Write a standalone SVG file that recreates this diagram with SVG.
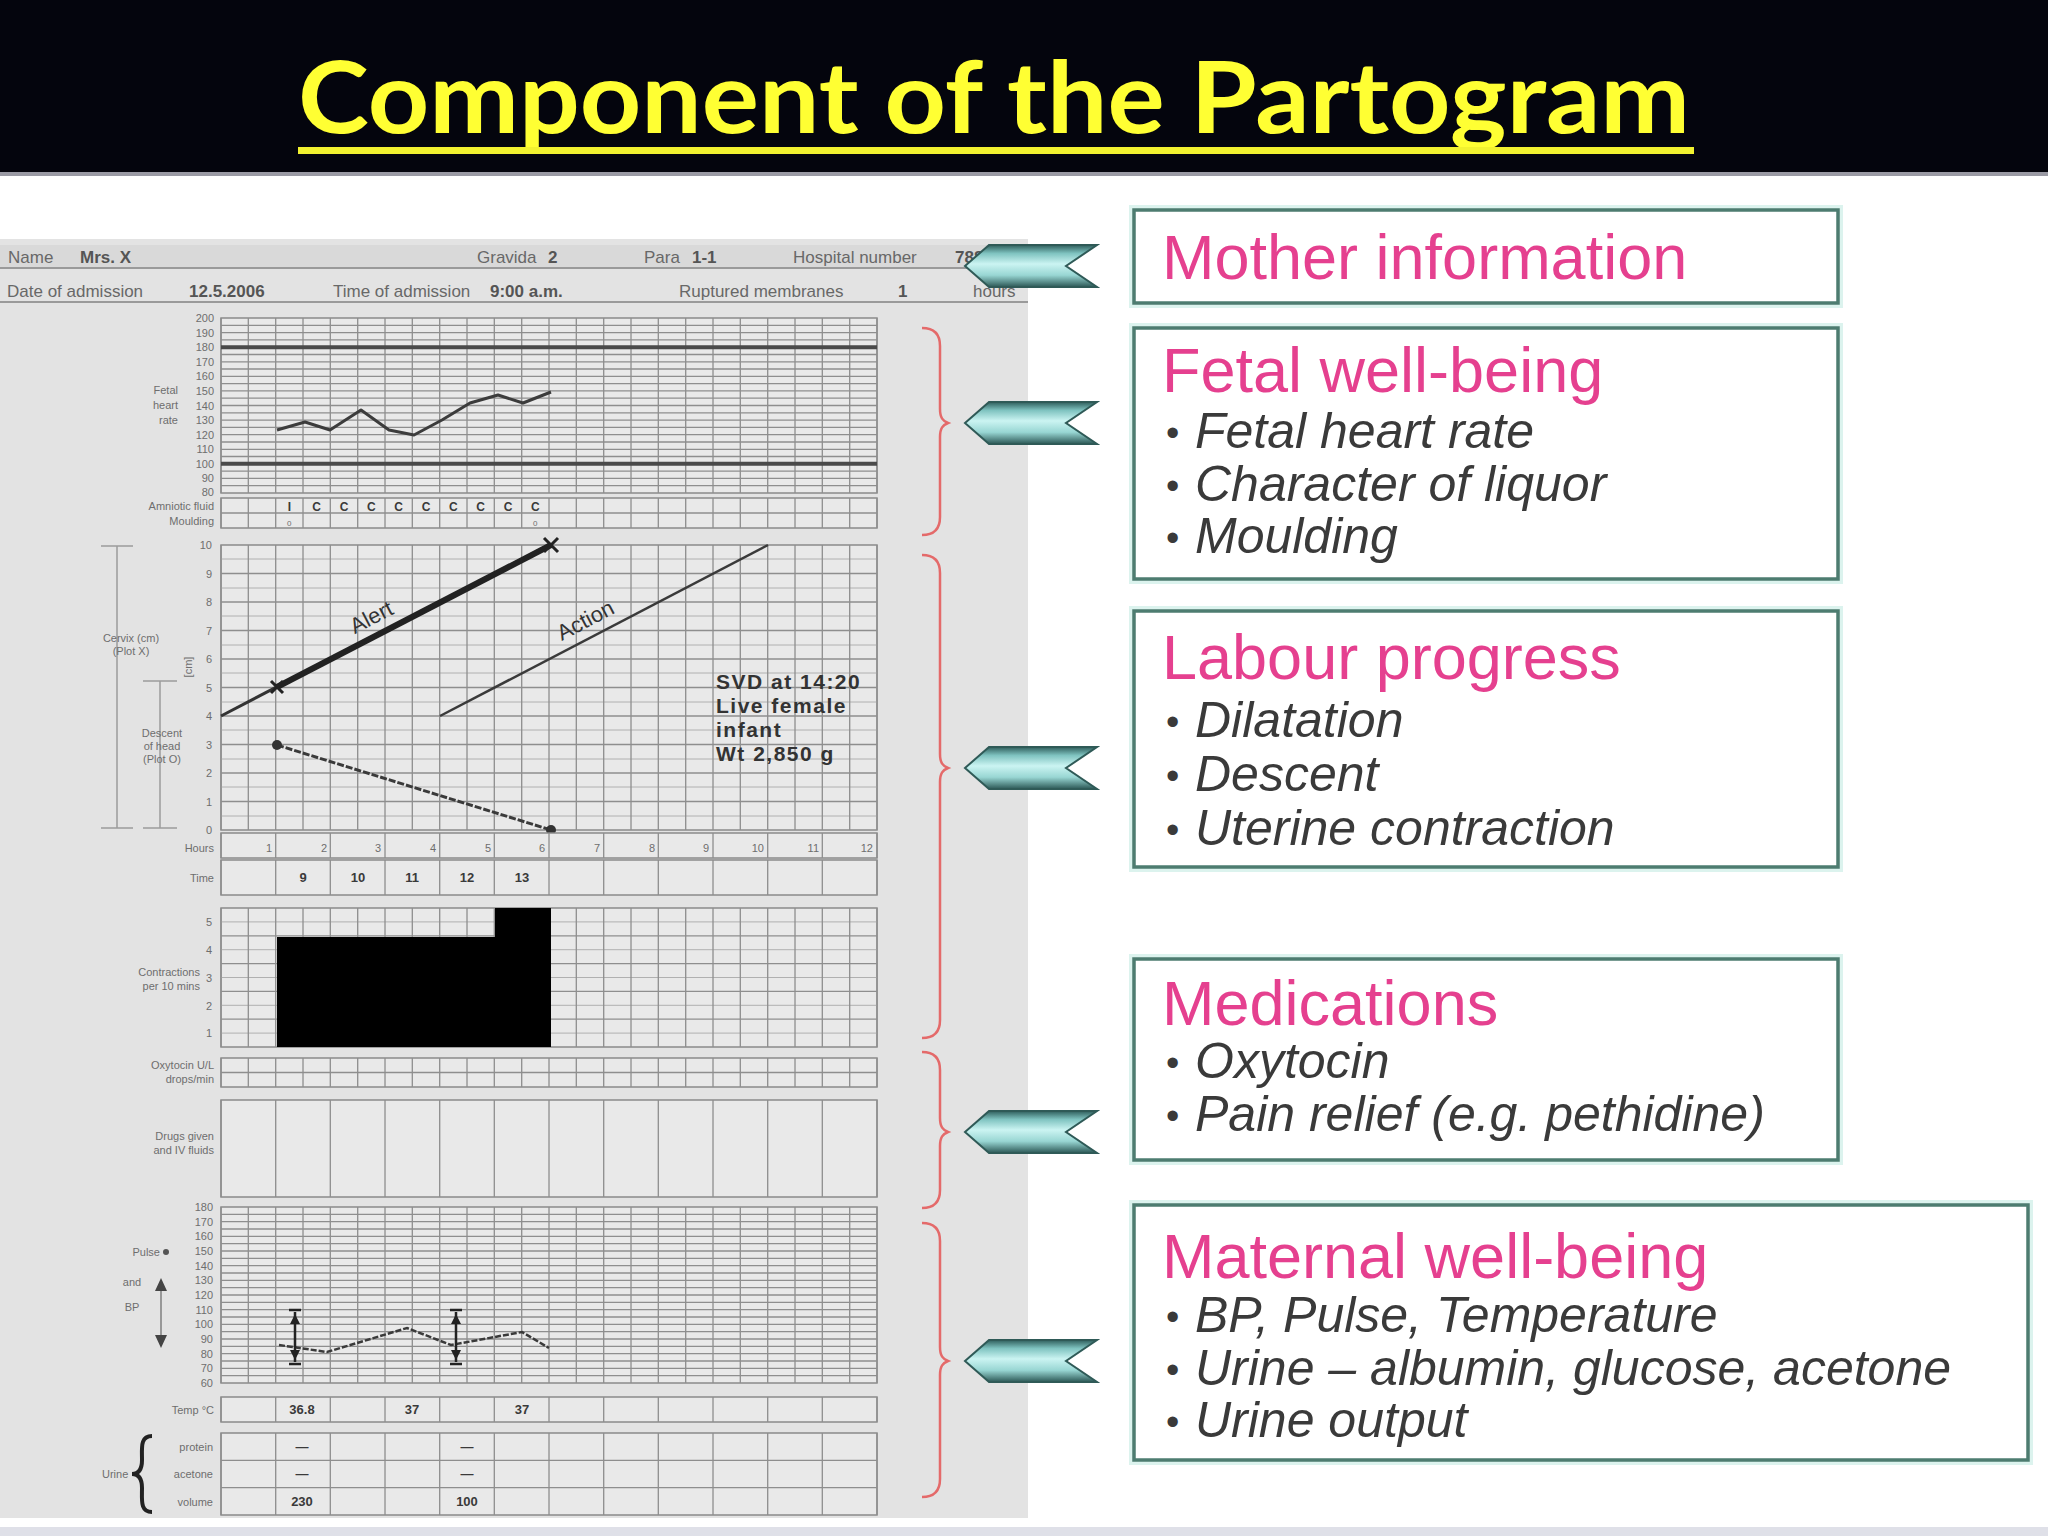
<svg xmlns="http://www.w3.org/2000/svg" xmlns:xlink="http://www.w3.org/1999/xlink" width="2048" height="1536" viewBox="0 0 2048 1536">
<style>
.g{fill:none;stroke:#8e8e8e;stroke-width:1.3}
.gl{fill:none;stroke:#b0b0b0;stroke-width:1}
.gt{fill:none;stroke:#4a4a4a;stroke-width:4}
.cb{fill:#e9e9e9;stroke:#8a8a8a;stroke-width:1.5}
.ax{font-family:"Liberation Sans",Arial,sans-serif;font-size:11px;fill:#6e6e6e}
.ar{font-family:"Liberation Sans",Arial,sans-serif;font-size:11px;fill:#6e6e6e;text-anchor:end}
.am{font-family:"Liberation Sans",Arial,sans-serif;font-size:11px;fill:#6e6e6e;text-anchor:middle}
.val{font-family:"Liberation Sans",Arial,sans-serif;font-size:13px;font-weight:bold;fill:#3a3a3a;text-anchor:middle}
.hd{font-family:"Liberation Sans",Arial,sans-serif;font-size:17px;fill:#686868}
.hv{font-family:"Liberation Sans",Arial,sans-serif;font-size:17px;font-weight:bold;fill:#555}
.box{fill:#ffffff;stroke:#4d7c70;stroke-width:3.5}
.glow{fill:none;stroke:#dcf3ee;stroke-width:10}
.h{font-family:"Liberation Sans",Arial,sans-serif;font-size:63px;fill:#e5408f}
.it{font-family:"Liberation Sans",Arial,sans-serif;font-size:50px;font-style:italic;fill:#3a3a3a}
.bul{font-family:"Liberation Sans",Arial,sans-serif;font-size:38px;fill:#3a3a3a}
.brace{fill:none;stroke:#e46a6a;stroke-width:2.5}
.chev{fill:url(#chevGrad);stroke:#2f5a57;stroke-width:2}
.fld{stroke:#9a9a9a;stroke-width:2}
</style>
<defs>
<linearGradient id="chevGrad" x1="0" y1="0" x2="0" y2="1">
<stop offset="0" stop-color="#2f5e5c"/>
<stop offset="0.2" stop-color="#7fc3c0"/>
<stop offset="0.45" stop-color="#cbf4f2"/>
<stop offset="0.72" stop-color="#98d6d3"/>
<stop offset="1" stop-color="#2c5856"/>
</linearGradient>
<path id="chev" class="chev" d="M0 0L24 -21H132L101 0L132 21H24Z"/>
<path id="v24" class="g" d="M221 0V1M248.3 0V1M275.7 0V1M303 0V1M330.3 0V1M357.7 0V1M385 0V1M412.3 0V1M439.7 0V1M467 0V1M494.3 0V1M521.7 0V1M549 0V1M576.3 0V1M603.7 0V1M631 0V1M658.3 0V1M685.7 0V1M713 0V1M740.3 0V1M767.7 0V1M795 0V1M822.3 0V1M849.7 0V1M877 0V1"/>
<path id="v12" class="g" d="M221 0V1M275.7 0V1M330.3 0V1M385 0V1M439.7 0V1M494.3 0V1M549 0V1M603.7 0V1M658.3 0V1M713 0V1M767.7 0V1M822.3 0V1M877 0V1"/>
</defs>

<rect width="2048" height="1536" fill="#ffffff"/>

<g id="title">
<rect x="0" y="0" width="2048" height="172" fill="#04050d"/>
<rect x="0" y="172" width="2048" height="4" fill="#9a9aa4"/>
<text x="298" y="133" font-family="Lato,'Open Sans','Liberation Sans',sans-serif" font-weight="bold" font-size="100" fill="#ffff33" textLength="1392" lengthAdjust="spacingAndGlyphs">Component of the Partogram</text>
<rect x="298" y="147" width="1396" height="7" fill="#f2f230"/>
</g>

<g id="partogram">
<rect x="0" y="239" width="1028" height="1279" fill="#e3e3e3"/>
<!-- header -->
<rect x="0" y="245" width="1028" height="22" fill="#d9d9d9"/>
<path class="fld" d="M0 268H1028"/>
<path class="fld" d="M0 302H1028" stroke="#b4b4b4"/>
<text class="hd" x="8" y="263">Name</text>
<text class="hv" x="80" y="263">Mrs. X</text>
<text class="hd" x="477" y="263">Gravida</text>
<text class="hv" x="548" y="263">2</text>
<text class="hd" x="644" y="263">Para</text>
<text class="hv" x="692" y="263">1-1</text>
<text class="hd" x="793" y="263">Hospital number</text>
<text class="hv" x="955" y="263">7886</text>
<text class="hd" x="7" y="297">Date of admission</text>
<text class="hv" x="189" y="297">12.5.2006</text>
<text class="hd" x="333" y="297">Time of admission</text>
<text class="hv" x="490" y="297">9:00 a.m.</text>
<text class="hd" x="679" y="297">Ruptured membranes</text>
<text class="hv" x="898" y="297">1</text>
<text class="hd" x="973" y="297">hours</text>

<!-- Fetal heart rate -->
<rect class="cb" x="221" y="318" width="656" height="175"/>
<path class="g" d="M221 325.3H877M221 332.6H877M221 339.9H877M221 354.5H877M221 361.8H877M221 369H877M221 376.3H877M221 383.6H877M221 390.9H877M221 398.2H877M221 405.5H877M221 412.8H877M221 420.1H877M221 427.4H877M221 434.7H877M221 442H877M221 449.3H877M221 456.5H877M221 471.1H877M221 478.4H877M221 485.7H877"/>
<use href="#v24" transform="matrix(1 0 0 175 0 318)"/>
<path class="gt" d="M221 347.2H877M221 463.8H877"/>
<polyline points="277,430 305,422 330,430 361,410 389,430 414,435 442,420 470,403 498,395 523,403 551,392" fill="none" stroke="#3c3c3c" stroke-width="3" stroke-linejoin="round"/>
<g class="ar">
<text x="214" y="322">200</text><text x="214" y="336.6">190</text><text x="214" y="351.2">180</text><text x="214" y="365.8">170</text><text x="214" y="380.3">160</text><text x="214" y="394.9">150</text><text x="214" y="409.5">140</text><text x="214" y="424.1">130</text><text x="214" y="438.7">120</text><text x="214" y="453.3">110</text><text x="214" y="467.8">100</text><text x="214" y="482.4">90</text><text x="214" y="496">80</text>
<text x="178" y="394">Fetal</text><text x="178" y="409">heart</text><text x="178" y="424">rate</text>
<text x="214" y="510">Amniotic fluid</text><text x="214" y="525">Moulding</text>
</g>
<!-- liquor / moulding -->
<rect class="cb" x="221" y="498" width="656" height="30"/>
<path class="g" d="M221 513H877"/>
<use href="#v24" transform="matrix(1 0 0 30 0 498)"/>
<g class="val" style="font-size:12px">
<text x="289.3" y="511">I</text><text x="316.7" y="511">C</text><text x="344" y="511">C</text><text x="371.3" y="511">C</text><text x="398.7" y="511">C</text><text x="426" y="511">C</text><text x="453.3" y="511">C</text><text x="480.7" y="511">C</text><text x="508" y="511">C</text><text x="535.3" y="511">C</text>
</g>
<text class="am" x="289.3" y="526" style="font-size:8px">0</text>
<text class="am" x="535.3" y="526" style="font-size:8px">0</text>

<!-- Cervix / descent -->
<rect class="cb" x="221" y="545" width="656" height="285"/>
<path class="g" d="M221 573.5H877M221 602H877M221 630.5H877M221 659H877M221 687.5H877M221 716H877M221 744.5H877M221 773H877M221 801.5H877"/>
<path class="gl" d="M221 559H877M221 588H877M221 616H877M221 645H877M221 673H877M221 702H877M221 730H877M221 759H877M221 787H877M221 816H877"/>
<use href="#v24" transform="matrix(1 0 0 285 0 545)"/>
<g class="ar">
<text x="212" y="549">10</text><text x="212" y="577.5">9</text><text x="212" y="606">8</text><text x="212" y="634.5">7</text><text x="212" y="663">6</text><text x="212" y="691.5">5</text><text x="212" y="720">4</text><text x="212" y="748.5">3</text><text x="212" y="777">2</text><text x="212" y="805.5">1</text><text x="212" y="834">0</text>
</g>
<text class="am" transform="translate(192 667) rotate(-90)">[cm]</text>
<path d="M101 546H133M117 546V828M101 828H133M143 681H177M160 681V828M143 828H177" fill="none" stroke="#9c9c9c" stroke-width="1.5"/>
<text class="am" x="131" y="642">Cervix (cm)</text>
<text class="am" x="131" y="655">(Plot X)</text>
<text class="am" x="162" y="737">Descent</text>
<text class="am" x="162" y="750">of head</text>
<text class="am" x="162" y="763">(Plot O)</text>
<!-- alert / action -->
<line x1="221" y1="716" x2="549" y2="545" stroke="#333" stroke-width="3"/>
<line x1="277" y1="687" x2="551" y2="545" stroke="#222" stroke-width="6"/>
<path d="M271 681L283 693M283 681L271 693M544 538L558 552M558 538L544 552" stroke="#222" stroke-width="3"/>
<line x1="440" y1="716" x2="768" y2="545" stroke="#3a3a3a" stroke-width="2.5"/>
<text transform="translate(378 630) rotate(-27.5)" x="0" y="-7" font-family="'Liberation Sans',Arial,sans-serif" font-size="22" fill="#333" text-anchor="middle">Alert</text>
<text transform="translate(592 633) rotate(-27.5)" x="0" y="-7" font-family="'Liberation Sans',Arial,sans-serif" font-size="22" fill="#333" text-anchor="middle">Action</text>
<line x1="277" y1="745" x2="551" y2="830" stroke="#3a3a3a" stroke-width="3" stroke-dasharray="7 2"/>
<circle cx="277" cy="745" r="5" fill="#333"/>
<circle cx="551" cy="830" r="5" fill="#333"/>
<g font-family="'Liberation Sans',Arial,sans-serif" font-size="21" font-weight="bold" fill="#333" letter-spacing="1.5">
<text x="716" y="689">SVD at 14:20</text>
<text x="716" y="713">Live female</text>
<text x="716" y="737">infant</text>
<text x="716" y="761">Wt  2,850 g</text>
</g>
<!-- hours / time -->
<rect class="cb" x="221" y="833" width="656" height="25"/>
<use href="#v12" transform="matrix(1 0 0 25 0 833)"/>
<text class="ar" x="214" y="852">Hours</text>
<g class="ax" text-anchor="end">
<text x="272" y="852">1</text><text x="327" y="852">2</text><text x="381" y="852">3</text><text x="436" y="852">4</text><text x="491" y="852">5</text><text x="545" y="852">6</text><text x="600" y="852">7</text><text x="655" y="852">8</text><text x="709" y="852">9</text><text x="764" y="852">10</text><text x="819" y="852">11</text><text x="873" y="852">12</text>
</g>
<rect class="cb" x="221" y="860" width="656" height="35"/>
<use href="#v12" transform="matrix(1 0 0 35 0 860)"/>
<text class="ar" x="214" y="882">Time</text>
<g class="val">
<text x="303" y="882">9</text><text x="358" y="882">10</text><text x="412" y="882">11</text><text x="467" y="882">12</text><text x="522" y="882">13</text>
</g>

<!-- contractions -->
<rect class="cb" x="221" y="908" width="656" height="139"/>
<path class="g" d="M221 935.8H877M221 963.6H877M221 991.4H877M221 1019.2H877"/>
<path class="gl" d="M221 921.9H877M221 949.7H877M221 977.5H877M221 1005.3H877M221 1033.1H877"/>
<use href="#v24" transform="matrix(1 0 0 139 0 908)"/>
<path d="M277 937H495V908H551V1047H277Z" fill="#000"/>
<g class="ar">
<text x="212" y="926">5</text><text x="212" y="954">4</text><text x="212" y="982">3</text><text x="212" y="1010">2</text><text x="212" y="1037">1</text>
<text x="200" y="976">Contractions</text><text x="200" y="990">per 10 mins</text>
</g>
<!-- oxytocin -->
<rect class="cb" x="221" y="1058" width="656" height="29"/>
<path class="g" d="M221 1072.5H877"/>
<use href="#v24" transform="matrix(1 0 0 29 0 1058)"/>
<text class="ar" x="214" y="1069">Oxytocin U/L</text>
<text class="ar" x="214" y="1083">drops/min</text>
<!-- drugs -->
<rect class="cb" x="221" y="1100" width="656" height="97"/>
<use href="#v12" transform="matrix(1 0 0 97 0 1100)"/>
<text class="ar" x="214" y="1140">Drugs given</text>
<text class="ar" x="214" y="1154">and IV fluids</text>

<!-- pulse / BP -->
<rect class="cb" x="221" y="1207" width="656" height="176"/>
<path class="g" d="M221 1214.3H877M221 1221.7H877M221 1229H877M221 1236.3H877M221 1243.7H877M221 1251H877M221 1258.3H877M221 1265.7H877M221 1273H877M221 1280.3H877M221 1287.7H877M221 1295H877M221 1302.3H877M221 1309.7H877M221 1317H877M221 1324.3H877M221 1331.7H877M221 1339H877M221 1346.3H877M221 1353.7H877M221 1361H877M221 1368.3H877M221 1375.7H877"/>
<use href="#v24" transform="matrix(1 0 0 176 0 1207)"/>
<g class="ar">
<text x="213" y="1211">180</text><text x="213" y="1225.7">170</text><text x="213" y="1240.3">160</text><text x="213" y="1255">150</text><text x="213" y="1269.7">140</text><text x="213" y="1284.3">130</text><text x="213" y="1299">120</text><text x="213" y="1313.7">110</text><text x="213" y="1328.3">100</text><text x="213" y="1343">90</text><text x="213" y="1357.7">80</text><text x="213" y="1372.3">70</text><text x="213" y="1387">60</text>
<text x="160" y="1256">Pulse</text>
</g>
<circle cx="166" cy="1252" r="3" fill="#555"/>
<text class="am" x="132" y="1286">and</text>
<text class="am" x="132" y="1311">BP</text>
<path d="M161 1288V1338" stroke="#666" stroke-width="1.2"/>
<path d="M161 1278L155 1291H167ZM161 1348L155 1335H167Z" fill="#444"/>
<polyline points="279,1345 327,1352 407,1328 451,1345 522,1332 549,1348" fill="none" stroke="#3a3a3a" stroke-width="2.5" stroke-dasharray="6 2"/>
<path d="M295 1312V1362M289 1310H301M289 1364H301M456 1312V1362M450 1310H462M450 1364H462" stroke="#222" stroke-width="2.5"/>
<path d="M295 1314L290 1324H300ZM295 1360L290 1350H300ZM456 1314L451 1324H461ZM456 1360L451 1350H461Z" fill="#222"/>

<!-- temp -->
<rect class="cb" x="221" y="1397" width="656" height="25"/>
<use href="#v12" transform="matrix(1 0 0 25 0 1397)"/>
<text class="ar" x="214" y="1414">Temp °C</text>
<g class="val">
<text x="302" y="1414">36.8</text><text x="412" y="1414">37</text><text x="522" y="1414">37</text>
</g>
<!-- urine -->
<rect class="cb" x="221" y="1433" width="656" height="82"/>
<path class="g" d="M221 1460.3H877M221 1487.7H877"/>
<use href="#v12" transform="matrix(1 0 0 82 0 1433)"/>
<g class="ar">
<text x="213" y="1451">protein</text><text x="213" y="1478">acetone</text><text x="213" y="1506">volume</text>
</g>
<text class="ax" x="102" y="1478">Urine</text>
<path d="M152 1436C140 1436 142 1448 142 1460C142 1469 139 1474 132 1474C139 1474 142 1479 142 1488C142 1500 140 1512 152 1512" fill="none" stroke="#222" stroke-width="4"/>
<g class="val">
<text x="302" y="1451">—</text><text x="302" y="1478">—</text><text x="302" y="1506">230</text>
<text x="467" y="1451">—</text><text x="467" y="1478">—</text><text x="467" y="1506">100</text>
</g>
</g>
<rect x="0" y="1527" width="2048" height="9" fill="#dfe0e8"/>

<g id="connectors">
<path class="brace" d="M922 328C934 328 940 334 940 346V409C940 418 943 421 948 423C943 425 940 428 940 437V517C940 529 934 535 922 535"/>
<path class="brace" d="M922 555C934 555 940 561 940 573V754C940 763 943 766 948 768C943 770 940 773 940 782V1020C940 1032 934 1038 922 1038"/>
<path class="brace" d="M922 1052C934 1052 940 1058 940 1070V1118C940 1127 943 1130 948 1132C943 1134 940 1137 940 1146V1190C940 1202 934 1208 922 1208"/>
<path class="brace" d="M922 1223C934 1223 940 1229 940 1241V1347C940 1356 943 1359 948 1361C943 1363 940 1366 940 1375V1479C940 1491 934 1497 922 1497"/>
<use href="#chev" x="965" y="266"/>
<use href="#chev" x="965" y="423"/>
<use href="#chev" x="965" y="768"/>
<use href="#chev" x="965" y="1132"/>
<use href="#chev" x="965" y="1361"/>
</g>

<g id="node-mother">
<rect class="glow" x="1134" y="210" width="704" height="93"/>
<rect class="box" x="1134" y="210" width="704" height="93"/>
<text class="h" x="1162" y="279">Mother information</text>
</g>
<g id="node-fetal">
<rect class="glow" x="1134" y="328" width="704" height="251"/>
<rect class="box" x="1134" y="328" width="704" height="251"/>
<text class="h" x="1162" y="392">Fetal well-being</text>
<text class="bul" x="1166" y="446">•</text><text class="it" x="1195" y="448">Fetal heart rate</text>
<text class="bul" x="1166" y="499">•</text><text class="it" x="1195" y="501">Character of liquor</text>
<text class="bul" x="1166" y="551">•</text><text class="it" x="1195" y="553">Moulding</text>
</g>
<g id="node-labour">
<rect class="glow" x="1134" y="611" width="704" height="256"/>
<rect class="box" x="1134" y="611" width="704" height="256"/>
<text class="h" x="1162" y="679">Labour progress</text>
<text class="bul" x="1166" y="735">•</text><text class="it" x="1195" y="737">Dilatation</text>
<text class="bul" x="1166" y="789">•</text><text class="it" x="1195" y="791">Descent</text>
<text class="bul" x="1166" y="843">•</text><text class="it" x="1195" y="845">Uterine contraction</text>
</g>
<g id="node-medications">
<rect class="glow" x="1134" y="959" width="704" height="201"/>
<rect class="box" x="1134" y="959" width="704" height="201"/>
<text class="h" x="1162" y="1025">Medications</text>
<text class="bul" x="1166" y="1076">•</text><text class="it" x="1195" y="1078">Oxytocin</text>
<text class="bul" x="1166" y="1129">•</text><text class="it" x="1195" y="1131">Pain relief (e.g. pethidine)</text>
</g>
<g id="node-maternal">
<rect class="glow" x="1134" y="1205" width="894" height="255"/>
<rect class="box" x="1134" y="1205" width="894" height="255"/>
<text class="h" x="1162" y="1278">Maternal well-being</text>
<text class="bul" x="1166" y="1330">•</text><text class="it" x="1195" y="1332">BP, Pulse, Temperature</text>
<text class="bul" x="1166" y="1383">•</text><text class="it" x="1195" y="1385">Urine – albumin, glucose, acetone</text>
<text class="bul" x="1166" y="1435">•</text><text class="it" x="1195" y="1437">Urine output</text>
</g>
</svg>
